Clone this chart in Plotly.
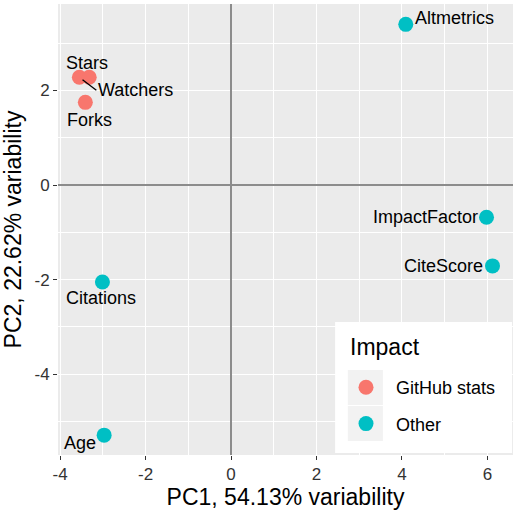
import plotly.graph_objects as go

# PCA loadings
labels = ["Watchers", "Stars", "Forks", "Altmetrics", "ImpactFactor", "CiteScore", "Citations", "Age"]
pc1 = [-3.55, -3.32, -3.41, 4.09, 5.98, 6.12, -3.01, -2.97]
pc2 = [2.28, 2.28, 1.75, 3.40, -0.68, -1.71, -2.05, -5.29]
impact = ["GitHub stats", "GitHub stats", "GitHub stats", "Other", "Other", "Other", "Other", "Other"]

groups = ["GitHub stats", "Other"]
colors = {"GitHub stats": "#F8766D", "Other": "#00BFC4"}

x_ticks = [-4, -2, 0, 2, 4, 6]
x_ticktext = ["-4", "-2", "0", "2", "4", "6"]
y_ticks = [-4, -2, 0, 2]
y_ticktext = ["-4", "-2", "0", "2"]

# label placement (pixel offsets from the point, like ggrepel did)
lab_anchor = ["left", "center", "center", "left", "right", "right", "center", "right"]
lab_dx = [17, -2, 4, 7, -7, -7, -1, -6]
lab_dy = [-13, 14, -18, 6, 0, 0, -16, -8]

FONT = "Liberation Sans, Arial, sans-serif"

fig = go.Figure()

for g in groups:
    idx = [i for i, v in enumerate(impact) if v == g]
    fig.add_trace(go.Scatter(
        x=[pc1[i] for i in idx],
        y=[pc2[i] for i in idx],
        mode="markers",
        name=g,
        legendgroup=g,
        marker=dict(color=colors[g], size=15, line=dict(width=0)),
        hovertext=[labels[i] for i in idx],
    ))

annotations = []
for i, name in enumerate(labels):
    if name == "Watchers":
        # repelled label with a segment back to the point
        annotations.append(dict(
            x=pc1[i], y=pc2[i], xref="x", yref="y", text=name,
            showarrow=True, arrowhead=0, arrowwidth=1.3, arrowcolor="black",
            standoff=4, ax=lab_dx[i], ay=-lab_dy[i],
            xanchor="left", yanchor="middle",
            font=dict(family=FONT, size=18, color="black"),
        ))
    else:
        annotations.append(dict(
            x=pc1[i], y=pc2[i], xref="x", yref="y", text=name,
            showarrow=False, xanchor=lab_anchor[i], yanchor="middle",
            xshift=lab_dx[i], yshift=lab_dy[i],
            font=dict(family=FONT, size=18, color="black"),
        ))

# legend title, drawn by hand so the ggplot spacing can be kept
annotations.append(dict(
    x=0.637, y=0.2395, xref="paper", yref="paper", text="Impact",
    showarrow=False, xanchor="left", yanchor="middle",
    font=dict(family=FONT, size=23, color="black"),
))

# ggplot legend box and grey key backgrounds
shapes = [
    dict(type="rect", xref="paper", yref="paper", x0=0.609, x1=0.998, y0=0.0044, y1=0.295,
         fillcolor="white", line=dict(width=0), layer="above"),
    dict(type="rect", xref="paper", yref="paper", x0=0.637, x1=0.714, y0=0.1109, y1=0.1885,
         fillcolor="#F2F2F2", line=dict(width=0), layer="above"),
    dict(type="rect", xref="paper", yref="paper", x0=0.637, x1=0.714, y0=0.0310, y1=0.1086,
         fillcolor="#F2F2F2", line=dict(width=0), layer="above"),
]

axis_common = dict(
    showgrid=True, gridcolor="white", gridwidth=1.4,
    minor=dict(dtick=1, showgrid=True, gridcolor="white", gridwidth=0.6),
    zeroline=True, zerolinecolor="#8C8C8C", zerolinewidth=1.5,
    ticks="outside", ticklen=4, tickwidth=1.1, tickcolor="#333333",
    tickfont=dict(family=FONT, size=17, color="#333333"),
    showline=False, automargin=False,
)

fig.update_layout(
    width=517, height=516,
    margin=dict(l=58, r=4, t=4, b=61),
    paper_bgcolor="white",
    plot_bgcolor="#EBEBEB",
    font=dict(family=FONT, color="black"),
    xaxis=dict(
        range=[-4.05, 6.60], tickvals=x_ticks, ticktext=x_ticktext,
        title=dict(text="PC1, 54.13% variability", font=dict(size=23, color="black"), standoff=4),
        **axis_common
    ),
    yaxis=dict(
        range=[-5.71, 3.83], tickvals=y_ticks, ticktext=y_ticktext,
        title=dict(text="PC2, 22.62% variability", font=dict(size=23, color="black"), standoff=6),
        **axis_common
    ),
    legend=dict(
        x=0.611, y=0.1907, xanchor="left", yanchor="top",
        bgcolor="rgba(0,0,0,0)", borderwidth=0,
        font=dict(family=FONT, size=18, color="black"),
        tracegroupgap=10,
        itemsizing="trace",
        itemwidth=50,
    ),
    shapes=shapes,
    annotations=annotations,
    showlegend=True,
)

# the page body has an 8px default margin; drop it so the figure fills the window
fig.write_html("out.html", config={"displayModeBar": False},
               post_script="document.body.style.margin='0';")
